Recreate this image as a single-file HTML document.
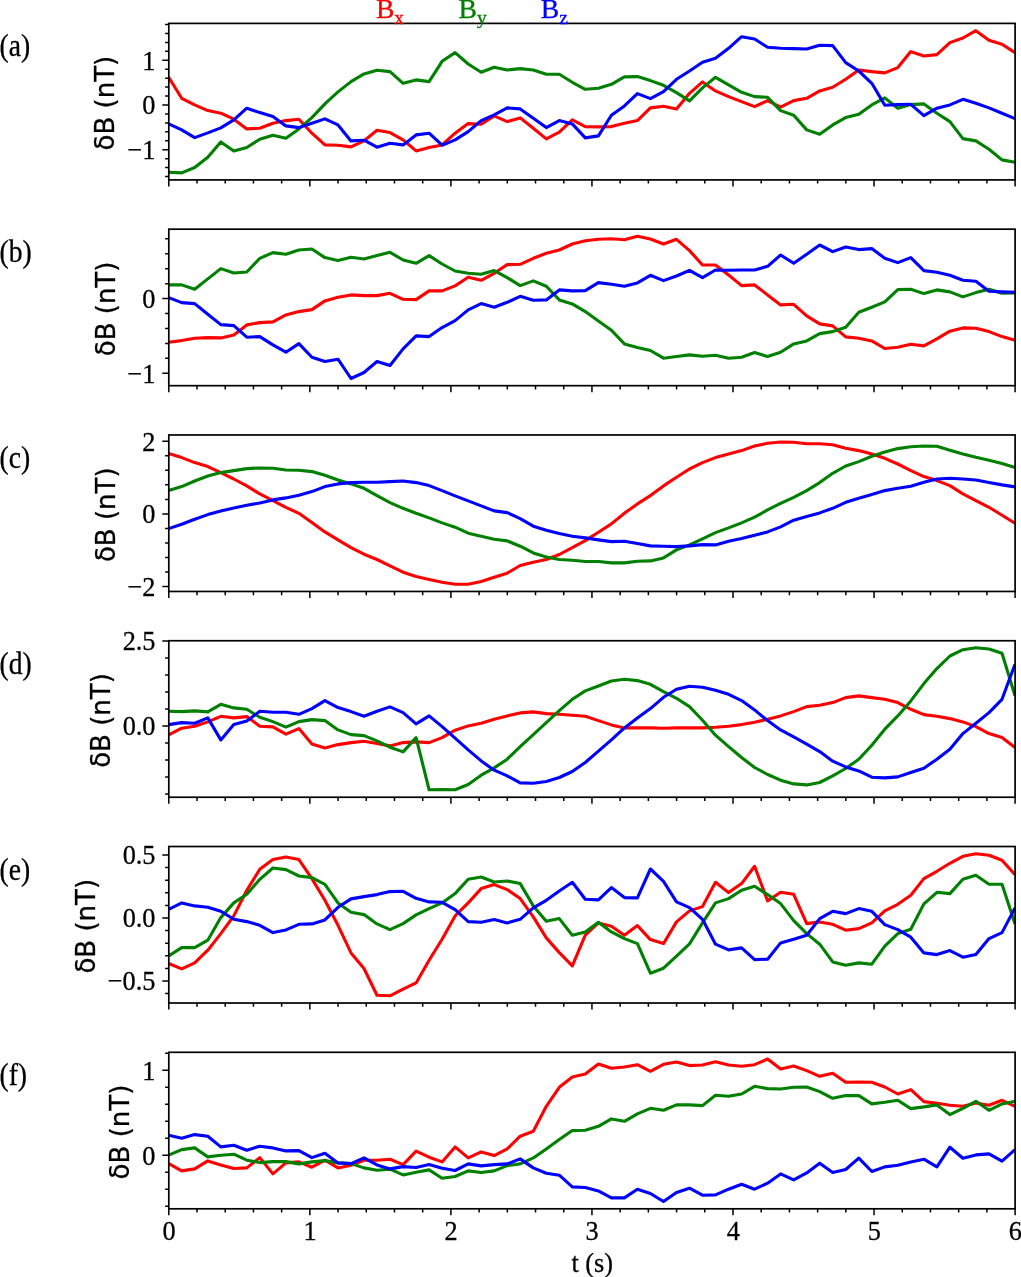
<!DOCTYPE html><html><head><meta charset="utf-8"><style>html,body{margin:0;padding:0;background:#fff;}svg{display:block;}</style></head><body>
<svg width="1021" height="1277" viewBox="0 0 1021 1277">
<rect x="0" y="0" width="1021" height="1277" fill="#fff"/>
<defs>
<clipPath id="ca"><rect x="168.8" y="23.4" width="846.30" height="156.5"/></clipPath>
<clipPath id="cb"><rect x="168.8" y="229.18" width="846.30" height="156.5"/></clipPath>
<clipPath id="cc"><rect x="168.8" y="434.96" width="846.30" height="156.5"/></clipPath>
<clipPath id="cd"><rect x="168.8" y="640.74" width="846.30" height="156.5"/></clipPath>
<clipPath id="ce"><rect x="168.8" y="846.52" width="846.30" height="156.5"/></clipPath>
<clipPath id="cf"><rect x="168.8" y="1052.3000000000002" width="846.30" height="156.5"/></clipPath>
</defs>
<g clip-path="url(#ca)" fill="none" stroke-width="3.1" stroke-linejoin="round" stroke-linecap="butt">
<polyline stroke="#ff0000" points="168.7,77.3 181.7,98.3 194.7,104.9 207.8,110.6 220.8,113.2 233.8,119.2 246.8,128.9 259.8,128.2 272.9,123.2 285.9,120.6 298.9,119.2 311.9,133.2 324.9,144.9 338.0,145.2 351.0,146.9 364.0,140.9 377.0,130.2 390.0,132.6 403.1,139.9 416.1,150.9 429.1,147.5 442.1,144.9 455.1,133.2 468.2,123.6 481.2,124.2 494.2,115.9 507.2,121.6 520.2,117.9 533.3,128.2 546.3,138.9 559.3,132.2 572.3,119.9 585.3,126.6 598.4,126.9 611.4,126.6 624.4,123.2 637.4,120.6 650.4,107.9 663.5,106.2 676.5,108.9 689.5,93.3 702.5,81.9 715.5,90.9 728.6,96.6 741.6,101.6 754.6,106.6 767.6,100.6 780.6,107.2 793.7,100.6 806.7,98.3 819.7,90.9 832.7,87.3 845.7,79.3 858.8,70.0 871.8,71.6 884.8,72.9 897.8,67.6 910.8,51.6 923.9,56.0 936.9,54.6 949.9,42.6 962.9,38.0 975.9,30.7 989.0,40.3 1002.0,44.3 1015.0,52.6"/>
<polyline stroke="#008000" points="168.7,172.2 181.7,172.9 194.7,167.5 207.8,157.2 220.8,141.9 233.8,150.9 246.8,147.5 259.8,139.2 272.9,135.2 285.9,138.2 298.9,128.9 311.9,117.6 324.9,103.9 338.0,91.9 351.0,81.6 364.0,73.9 377.0,70.3 390.0,71.6 403.1,83.3 416.1,79.9 429.1,81.6 442.1,61.3 455.1,52.6 468.2,64.0 481.2,72.3 494.2,67.3 507.2,70.0 520.2,68.6 533.3,70.0 546.3,74.3 559.3,74.3 572.3,82.3 585.3,89.3 598.4,88.3 611.4,84.3 624.4,76.9 637.4,76.6 650.4,80.6 663.5,85.3 676.5,92.6 689.5,100.9 702.5,87.9 715.5,77.3 728.6,84.9 741.6,92.3 754.6,96.6 767.6,97.3 780.6,110.6 793.7,115.2 806.7,129.9 819.7,134.2 832.7,124.9 845.7,117.6 858.8,114.2 871.8,104.9 884.8,97.9 897.8,108.2 910.8,104.6 923.9,103.9 936.9,113.2 949.9,121.6 962.9,138.6 975.9,140.9 989.0,149.2 1002.0,159.9 1015.0,162.2"/>
<polyline stroke="#0000ff" points="168.7,123.9 181.7,129.9 194.7,137.6 207.8,132.9 220.8,127.9 233.8,119.9 246.8,108.2 259.8,112.6 272.9,116.6 285.9,125.9 298.9,127.6 311.9,123.2 324.9,118.9 338.0,124.9 351.0,140.9 364.0,140.2 377.0,147.2 390.0,143.2 403.1,144.9 416.1,134.9 429.1,133.2 442.1,145.2 455.1,139.9 468.2,131.6 481.2,120.6 494.2,114.9 507.2,107.9 520.2,108.9 533.3,118.2 546.3,127.6 559.3,120.6 572.3,123.9 585.3,137.9 598.4,135.9 611.4,115.2 624.4,105.9 637.4,93.6 650.4,98.6 663.5,91.6 676.5,79.3 689.5,71.0 702.5,62.3 715.5,58.3 728.6,48.3 741.6,36.7 754.6,39.0 767.6,47.3 780.6,48.3 793.7,48.6 806.7,49.0 819.7,45.3 832.7,45.6 845.7,62.6 858.8,71.0 871.8,83.3 884.8,105.2 897.8,104.6 910.8,104.3 923.9,115.6 936.9,108.2 949.9,104.9 962.9,99.3 975.9,103.3 989.0,107.9 1002.0,113.2 1015.0,118.6"/>
</g>
<rect x="168.8" y="23.4" width="846.30" height="156.5" fill="none" stroke="#000" stroke-width="1.7"/>
<path d="M168.80,179.90v6.5 M197.01,179.90v3.7 M225.22,179.90v3.7 M253.43,179.90v3.7 M281.64,179.90v3.7 M309.85,179.90v6.5 M338.06,179.90v3.7 M366.27,179.90v3.7 M394.48,179.90v3.7 M422.69,179.90v3.7 M450.90,179.90v6.5 M479.11,179.90v3.7 M507.32,179.90v3.7 M535.53,179.90v3.7 M563.74,179.90v3.7 M591.95,179.90v6.5 M620.16,179.90v3.7 M648.37,179.90v3.7 M676.58,179.90v3.7 M704.79,179.90v3.7 M733.00,179.90v6.5 M761.21,179.90v3.7 M789.42,179.90v3.7 M817.63,179.90v3.7 M845.84,179.90v3.7 M874.05,179.90v6.5 M902.26,179.90v3.7 M930.47,179.90v3.7 M958.68,179.90v3.7 M986.89,179.90v3.7 M1015.10,179.90v6.5 M168.80,176.52h-3.7 M168.80,167.58h-3.7 M168.80,158.64h-3.7 M168.80,149.70h-6.5 M168.80,140.76h-3.7 M168.80,131.82h-3.7 M168.80,122.88h-3.7 M168.80,113.94h-3.7 M168.80,105.00h-6.5 M168.80,96.06h-3.7 M168.80,87.12h-3.7 M168.80,78.18h-3.7 M168.80,69.24h-3.7 M168.80,60.30h-6.5 M168.80,51.36h-3.7 M168.80,42.42h-3.7 M168.80,33.48h-3.7 M168.80,24.54h-3.7" stroke="#000" stroke-width="1.5" fill="none"/>
<text stroke="#000" stroke-width="0.3" transform="translate(155.5,69.70) scale(0.95,1)" text-anchor="end" font-family="'Liberation Serif', serif" font-size="27.7">1</text>
<text stroke="#000" stroke-width="0.3" transform="translate(155.5,114.40) scale(0.95,1)" text-anchor="end" font-family="'Liberation Serif', serif" font-size="27.7">0</text>
<text stroke="#000" stroke-width="0.3" transform="translate(155.5,159.10) scale(0.95,1)" text-anchor="end" font-family="'Liberation Serif', serif" font-size="27.7">−1</text>
<text stroke="#000" stroke-width="0.3" transform="translate(114.4,103.15) rotate(-90)" text-anchor="middle" font-family="'DejaVu Sans', sans-serif" font-size="26">δB (nT)</text>
<text stroke="#000" stroke-width="0.3" transform="translate(-0.5,56.40) scale(0.89,1)" font-family="'Liberation Serif', serif" font-size="31">(a)</text>
<g clip-path="url(#cb)" fill="none" stroke-width="3.1" stroke-linejoin="round" stroke-linecap="butt">
<polyline stroke="#ff0000" points="168.7,342.2 181.7,340.6 194.7,338.2 207.8,337.6 220.8,337.9 233.8,334.9 246.8,324.9 259.8,322.6 272.9,321.9 285.9,314.9 298.9,311.6 311.9,309.6 324.9,300.9 338.0,297.3 351.0,294.9 364.0,295.6 377.0,295.6 390.0,293.3 403.1,299.3 416.1,299.6 429.1,290.9 442.1,290.9 455.1,285.9 468.2,277.3 481.2,280.3 494.2,273.3 507.2,264.6 520.2,264.3 533.3,258.3 546.3,253.3 559.3,250.0 572.3,244.0 585.3,240.7 598.4,239.3 611.4,238.7 624.4,239.7 637.4,236.3 650.4,239.0 663.5,244.0 676.5,239.3 689.5,250.6 702.5,265.0 715.5,265.0 728.6,275.0 741.6,285.6 754.6,284.9 767.6,294.9 780.6,304.9 793.7,304.3 806.7,315.9 819.7,323.9 832.7,325.9 845.7,336.9 858.8,338.2 871.8,340.9 884.8,348.5 897.8,347.2 910.8,344.2 923.9,345.9 936.9,338.9 949.9,331.2 962.9,327.9 975.9,328.2 989.0,331.6 1002.0,336.6 1015.0,340.2"/>
<polyline stroke="#008000" points="168.7,284.9 181.7,284.9 194.7,289.3 207.8,278.9 220.8,268.6 233.8,273.0 246.8,272.0 259.8,258.3 272.9,252.6 285.9,254.3 298.9,250.0 311.9,249.0 324.9,257.6 338.0,260.6 351.0,257.3 364.0,259.0 377.0,255.6 390.0,252.3 403.1,260.0 416.1,263.3 429.1,255.6 442.1,264.0 455.1,271.0 468.2,273.3 481.2,274.3 494.2,270.6 507.2,277.6 520.2,285.6 533.3,280.9 546.3,286.3 559.3,299.9 572.3,303.9 585.3,311.6 598.4,320.9 611.4,330.2 624.4,343.9 637.4,347.5 650.4,350.5 663.5,358.2 676.5,356.5 689.5,354.9 702.5,356.2 715.5,355.2 728.6,358.2 741.6,357.2 754.6,352.5 767.6,356.5 780.6,352.2 793.7,343.9 806.7,340.9 819.7,333.6 832.7,331.6 845.7,327.2 858.8,312.2 871.8,307.3 884.8,301.9 897.8,289.6 910.8,289.3 923.9,293.6 936.9,289.9 949.9,291.9 962.9,296.9 975.9,292.6 989.0,289.3 1002.0,293.3 1015.0,292.9"/>
<polyline stroke="#0000ff" points="168.7,297.6 181.7,302.6 194.7,303.6 207.8,314.2 220.8,324.6 233.8,325.6 246.8,337.2 259.8,336.6 272.9,344.9 285.9,352.2 298.9,343.6 311.9,357.2 324.9,361.5 338.0,359.2 351.0,378.5 364.0,372.5 377.0,361.5 390.0,365.5 403.1,348.9 416.1,335.9 429.1,336.6 442.1,327.6 455.1,320.6 468.2,309.9 481.2,303.6 494.2,307.3 507.2,302.3 520.2,296.3 533.3,300.3 546.3,299.9 559.3,289.9 572.3,290.9 585.3,290.6 598.4,282.6 611.4,284.3 624.4,286.3 637.4,282.9 650.4,275.3 663.5,280.6 676.5,276.0 689.5,270.3 702.5,277.6 715.5,270.0 728.6,270.3 741.6,270.0 754.6,270.0 767.6,266.3 780.6,255.0 793.7,263.3 806.7,254.3 819.7,245.0 832.7,251.6 845.7,247.0 858.8,249.6 871.8,248.6 884.8,258.3 897.8,262.6 910.8,257.6 923.9,270.6 936.9,272.3 949.9,275.3 962.9,280.3 975.9,281.3 989.0,291.3 1002.0,291.9 1015.0,292.3"/>
</g>
<rect x="168.8" y="229.18" width="846.30" height="156.5" fill="none" stroke="#000" stroke-width="1.7"/>
<path d="M168.80,385.68v6.5 M197.01,385.68v3.7 M225.22,385.68v3.7 M253.43,385.68v3.7 M281.64,385.68v3.7 M309.85,385.68v6.5 M338.06,385.68v3.7 M366.27,385.68v3.7 M394.48,385.68v3.7 M422.69,385.68v3.7 M450.90,385.68v6.5 M479.11,385.68v3.7 M507.32,385.68v3.7 M535.53,385.68v3.7 M563.74,385.68v3.7 M591.95,385.68v6.5 M620.16,385.68v3.7 M648.37,385.68v3.7 M676.58,385.68v3.7 M704.79,385.68v3.7 M733.00,385.68v6.5 M761.21,385.68v3.7 M789.42,385.68v3.7 M817.63,385.68v3.7 M845.84,385.68v3.7 M874.05,385.68v6.5 M902.26,385.68v3.7 M930.47,385.68v3.7 M958.68,385.68v3.7 M986.89,385.68v3.7 M1015.10,385.68v6.5 M168.80,373.30h-6.5 M168.80,358.36h-3.7 M168.80,343.42h-3.7 M168.80,328.48h-3.7 M168.80,313.54h-3.7 M168.80,298.60h-6.5 M168.80,283.66h-3.7 M168.80,268.72h-3.7 M168.80,253.78h-3.7 M168.80,238.84h-3.7" stroke="#000" stroke-width="1.5" fill="none"/>
<text stroke="#000" stroke-width="0.3" transform="translate(155.5,308.00) scale(0.95,1)" text-anchor="end" font-family="'Liberation Serif', serif" font-size="27.7">0</text>
<text stroke="#000" stroke-width="0.3" transform="translate(155.5,382.70) scale(0.95,1)" text-anchor="end" font-family="'Liberation Serif', serif" font-size="27.7">−1</text>
<text stroke="#000" stroke-width="0.3" transform="translate(114.6,308.93) rotate(-90)" text-anchor="middle" font-family="'DejaVu Sans', sans-serif" font-size="26">δB (nT)</text>
<text stroke="#000" stroke-width="0.3" transform="translate(-0.5,262.18) scale(0.89,1)" font-family="'Liberation Serif', serif" font-size="31">(b)</text>
<g clip-path="url(#cc)" fill="none" stroke-width="3.1" stroke-linejoin="round" stroke-linecap="butt">
<polyline stroke="#ff0000" points="168.7,453.6 181.7,457.6 194.7,462.6 207.8,466.6 220.8,472.6 233.8,479.0 246.8,485.9 259.8,493.9 272.9,500.6 285.9,507.3 298.9,513.3 311.9,522.6 324.9,531.9 338.0,539.9 351.0,547.6 364.0,554.2 377.0,559.5 390.0,565.9 403.1,572.2 416.1,576.5 429.1,579.5 442.1,582.2 455.1,584.2 468.2,584.2 481.2,581.5 494.2,577.2 507.2,573.2 520.2,565.5 533.3,562.2 546.3,559.5 559.3,554.5 572.3,547.6 585.3,540.6 598.4,532.2 611.4,523.9 624.4,513.3 637.4,503.9 650.4,495.6 663.5,485.9 676.5,477.3 689.5,469.0 702.5,462.6 715.5,457.6 728.6,454.0 741.6,450.6 754.6,446.0 767.6,443.3 780.6,442.0 793.7,442.3 806.7,443.7 819.7,443.7 832.7,444.7 845.7,448.3 858.8,450.6 871.8,454.0 884.8,458.3 897.8,464.0 910.8,470.6 923.9,476.6 936.9,480.6 949.9,485.6 962.9,493.9 975.9,500.6 989.0,507.3 1002.0,515.2 1015.0,523.2"/>
<polyline stroke="#008000" points="168.7,490.6 181.7,486.6 194.7,481.0 207.8,476.0 220.8,472.6 233.8,470.6 246.8,468.6 259.8,468.0 272.9,468.3 285.9,470.0 298.9,470.3 311.9,471.6 324.9,475.3 338.0,480.0 351.0,483.9 364.0,488.3 377.0,495.6 390.0,502.6 403.1,508.3 416.1,513.3 429.1,517.9 442.1,522.9 455.1,527.2 468.2,533.2 481.2,536.2 494.2,539.2 507.2,540.9 520.2,546.2 533.3,552.9 546.3,556.9 559.3,559.5 572.3,560.2 585.3,561.5 598.4,561.5 611.4,562.9 624.4,562.9 637.4,561.2 650.4,560.9 663.5,557.9 676.5,549.9 689.5,544.9 702.5,538.9 715.5,532.6 728.6,527.9 741.6,522.9 754.6,517.2 767.6,509.9 780.6,503.3 793.7,497.3 806.7,490.6 819.7,482.6 832.7,473.3 845.7,466.0 858.8,461.6 871.8,456.3 884.8,452.0 897.8,448.6 910.8,446.7 923.9,446.0 936.9,446.3 949.9,450.3 962.9,454.0 975.9,457.3 989.0,460.3 1002.0,463.6 1015.0,467.6"/>
<polyline stroke="#0000ff" points="168.7,528.6 181.7,524.2 194.7,519.2 207.8,514.6 220.8,510.9 233.8,507.9 246.8,505.3 259.8,502.9 272.9,499.9 285.9,497.9 298.9,495.3 311.9,491.6 324.9,486.6 338.0,483.9 351.0,482.6 364.0,482.3 377.0,482.3 390.0,481.6 403.1,481.0 416.1,482.6 429.1,485.6 442.1,490.6 455.1,495.9 468.2,500.9 481.2,505.9 494.2,510.9 507.2,512.6 520.2,518.6 533.3,526.2 546.3,530.2 559.3,533.6 572.3,536.2 585.3,537.9 598.4,539.9 611.4,541.6 624.4,541.2 637.4,543.6 650.4,545.9 663.5,546.2 676.5,546.6 689.5,545.9 702.5,544.6 715.5,544.9 728.6,541.2 741.6,538.6 754.6,535.2 767.6,531.9 780.6,526.9 793.7,520.2 806.7,516.6 819.7,512.9 832.7,508.3 845.7,502.3 858.8,498.3 871.8,494.6 884.8,490.6 897.8,488.3 910.8,486.3 923.9,482.3 936.9,479.0 949.9,478.3 962.9,479.0 975.9,480.0 989.0,482.6 1002.0,484.9 1015.0,486.9"/>
</g>
<rect x="168.8" y="434.96" width="846.30" height="156.5" fill="none" stroke="#000" stroke-width="1.7"/>
<path d="M168.80,591.46v6.5 M197.01,591.46v3.7 M225.22,591.46v3.7 M253.43,591.46v3.7 M281.64,591.46v3.7 M309.85,591.46v6.5 M338.06,591.46v3.7 M366.27,591.46v3.7 M394.48,591.46v3.7 M422.69,591.46v3.7 M450.90,591.46v6.5 M479.11,591.46v3.7 M507.32,591.46v3.7 M535.53,591.46v3.7 M563.74,591.46v3.7 M591.95,591.46v6.5 M620.16,591.46v3.7 M648.37,591.46v3.7 M676.58,591.46v3.7 M704.79,591.46v3.7 M733.00,591.46v6.5 M761.21,591.46v3.7 M789.42,591.46v3.7 M817.63,591.46v3.7 M845.84,591.46v3.7 M874.05,591.46v6.5 M902.26,591.46v3.7 M930.47,591.46v3.7 M958.68,591.46v3.7 M986.89,591.46v3.7 M1015.10,591.46v6.5 M168.80,586.50h-6.5 M168.80,571.98h-3.7 M168.80,557.46h-3.7 M168.80,542.94h-3.7 M168.80,528.42h-3.7 M168.80,513.90h-6.5 M168.80,499.38h-3.7 M168.80,484.86h-3.7 M168.80,470.34h-3.7 M168.80,455.82h-3.7 M168.80,441.30h-6.5" stroke="#000" stroke-width="1.5" fill="none"/>
<text stroke="#000" stroke-width="0.3" transform="translate(155.5,450.70) scale(0.95,1)" text-anchor="end" font-family="'Liberation Serif', serif" font-size="27.7">2</text>
<text stroke="#000" stroke-width="0.3" transform="translate(155.5,523.30) scale(0.95,1)" text-anchor="end" font-family="'Liberation Serif', serif" font-size="27.7">0</text>
<text stroke="#000" stroke-width="0.3" transform="translate(155.5,595.90) scale(0.95,1)" text-anchor="end" font-family="'Liberation Serif', serif" font-size="27.7">−2</text>
<text stroke="#000" stroke-width="0.3" transform="translate(114.7,514.71) rotate(-90)" text-anchor="middle" font-family="'DejaVu Sans', sans-serif" font-size="26">δB (nT)</text>
<text stroke="#000" stroke-width="0.3" transform="translate(-0.5,467.96) scale(0.89,1)" font-family="'Liberation Serif', serif" font-size="31">(c)</text>
<g clip-path="url(#cd)" fill="none" stroke-width="3.1" stroke-linejoin="round" stroke-linecap="butt">
<polyline stroke="#ff0000" points="168.7,734.9 181.7,728.2 194.7,726.2 207.8,721.9 220.8,716.3 233.8,717.9 246.8,716.6 259.8,726.2 272.9,726.9 285.9,734.2 298.9,728.6 311.9,743.9 324.9,747.9 338.0,744.6 351.0,742.6 364.0,741.2 377.0,743.6 390.0,745.9 403.1,742.6 416.1,741.9 429.1,742.6 442.1,737.6 455.1,730.2 468.2,725.9 481.2,723.2 494.2,719.3 507.2,715.9 520.2,712.9 533.3,711.9 546.3,713.6 559.3,714.3 572.3,715.3 585.3,716.3 598.4,720.6 611.4,724.9 624.4,727.9 637.4,727.9 650.4,727.9 663.5,728.2 676.5,727.9 689.5,727.9 702.5,727.9 715.5,727.2 728.6,726.2 741.6,724.6 754.6,722.2 767.6,719.3 780.6,715.9 793.7,711.6 806.7,706.6 819.7,705.3 832.7,702.6 845.7,697.6 858.8,695.9 871.8,697.6 884.8,699.3 897.8,702.6 910.8,709.3 923.9,714.6 936.9,716.3 949.9,718.6 962.9,721.9 975.9,726.6 989.0,733.6 1002.0,737.6 1015.0,747.6"/>
<polyline stroke="#008000" points="168.7,711.3 181.7,711.6 194.7,710.9 207.8,711.9 220.8,704.3 233.8,707.9 246.8,709.3 259.8,717.3 272.9,721.6 285.9,727.2 298.9,721.6 311.9,719.6 324.9,720.6 338.0,729.9 351.0,734.6 364.0,735.6 377.0,740.9 390.0,747.2 403.1,751.9 416.1,737.6 429.1,789.8 442.1,789.5 455.1,789.8 468.2,784.5 481.2,775.2 494.2,767.9 507.2,759.2 520.2,746.6 533.3,734.6 546.3,722.6 559.3,710.6 572.3,699.3 585.3,690.9 598.4,686.0 611.4,681.0 624.4,679.3 637.4,680.6 650.4,684.3 663.5,691.6 676.5,698.3 689.5,706.6 702.5,720.3 715.5,735.2 728.6,746.6 741.6,757.5 754.6,767.5 767.6,774.5 780.6,780.2 793.7,783.9 806.7,784.9 819.7,782.5 832.7,775.9 845.7,768.5 858.8,759.2 871.8,745.2 884.8,729.2 897.8,715.9 910.8,700.9 923.9,683.6 936.9,668.6 949.9,656.0 962.9,649.7 975.9,647.7 989.0,649.0 1002.0,653.3 1015.0,695.9"/>
<polyline stroke="#0000ff" points="168.7,724.6 181.7,722.6 194.7,723.2 207.8,717.9 220.8,739.9 233.8,724.6 246.8,720.9 259.8,711.3 272.9,712.3 285.9,712.3 298.9,714.3 311.9,708.6 324.9,700.6 338.0,707.6 351.0,711.6 364.0,716.3 377.0,711.3 390.0,706.9 403.1,712.6 416.1,723.9 429.1,715.9 442.1,726.6 455.1,738.2 468.2,749.9 481.2,760.9 494.2,770.2 507.2,775.9 520.2,782.9 533.3,783.2 546.3,781.5 559.3,777.5 572.3,771.5 585.3,762.5 598.4,751.2 611.4,739.9 624.4,727.9 637.4,717.9 650.4,708.6 663.5,697.3 676.5,689.3 689.5,686.3 702.5,687.3 715.5,690.3 728.6,694.3 741.6,700.6 754.6,709.9 767.6,720.6 780.6,729.9 793.7,736.9 806.7,744.2 819.7,751.6 832.7,761.2 845.7,766.9 858.8,770.9 871.8,777.2 884.8,777.9 897.8,776.9 910.8,772.5 923.9,768.2 936.9,759.2 949.9,749.2 962.9,733.6 975.9,723.2 989.0,712.6 1002.0,699.3 1015.0,664.3"/>
</g>
<rect x="168.8" y="640.74" width="846.30" height="156.5" fill="none" stroke="#000" stroke-width="1.7"/>
<path d="M168.80,797.24v6.5 M197.01,797.24v3.7 M225.22,797.24v3.7 M253.43,797.24v3.7 M281.64,797.24v3.7 M309.85,797.24v6.5 M338.06,797.24v3.7 M366.27,797.24v3.7 M394.48,797.24v3.7 M422.69,797.24v3.7 M450.90,797.24v6.5 M479.11,797.24v3.7 M507.32,797.24v3.7 M535.53,797.24v3.7 M563.74,797.24v3.7 M591.95,797.24v6.5 M620.16,797.24v3.7 M648.37,797.24v3.7 M676.58,797.24v3.7 M704.79,797.24v3.7 M733.00,797.24v6.5 M761.21,797.24v3.7 M789.42,797.24v3.7 M817.63,797.24v3.7 M845.84,797.24v3.7 M874.05,797.24v6.5 M902.26,797.24v3.7 M930.47,797.24v3.7 M958.68,797.24v3.7 M986.89,797.24v3.7 M1015.10,797.24v6.5 M168.80,794.00h-3.7 M168.80,777.00h-3.7 M168.80,760.00h-3.7 M168.80,743.00h-3.7 M168.80,726.00h-6.5 M168.80,709.00h-3.7 M168.80,692.00h-3.7 M168.80,675.00h-3.7 M168.80,658.00h-3.7 M168.80,641.00h-6.5" stroke="#000" stroke-width="1.5" fill="none"/>
<text stroke="#000" stroke-width="0.3" transform="translate(155.5,650.40) scale(0.95,1)" text-anchor="end" font-family="'Liberation Serif', serif" font-size="27.7">2.5</text>
<text stroke="#000" stroke-width="0.3" transform="translate(155.5,735.40) scale(0.95,1)" text-anchor="end" font-family="'Liberation Serif', serif" font-size="27.7">0.0</text>
<text stroke="#000" stroke-width="0.3" transform="translate(109.6,720.49) rotate(-90)" text-anchor="middle" font-family="'DejaVu Sans', sans-serif" font-size="26">δB (nT)</text>
<text stroke="#000" stroke-width="0.3" transform="translate(-0.5,673.74) scale(0.89,1)" font-family="'Liberation Serif', serif" font-size="31">(d)</text>
<g clip-path="url(#ce)" fill="none" stroke-width="3.1" stroke-linejoin="round" stroke-linecap="butt">
<polyline stroke="#ff0000" points="168.7,963.5 181.7,968.9 194.7,962.9 207.8,950.2 220.8,933.6 233.8,915.9 246.8,890.3 259.8,869.3 272.9,859.6 285.9,857.0 298.9,859.6 311.9,878.6 324.9,900.3 338.0,925.3 351.0,952.9 364.0,968.5 377.0,995.2 390.0,995.8 403.1,989.2 416.1,982.9 429.1,960.2 442.1,939.2 455.1,915.9 468.2,902.9 481.2,888.6 494.2,884.6 507.2,889.6 520.2,898.6 533.3,916.9 546.3,937.9 559.3,952.6 572.3,965.9 585.3,935.2 598.4,922.9 611.4,926.3 624.4,935.2 637.4,925.6 650.4,939.6 663.5,943.6 676.5,921.9 689.5,910.9 702.5,906.6 715.5,882.3 728.6,892.6 741.6,883.6 754.6,866.3 767.6,900.9 780.6,892.3 793.7,894.3 806.7,923.6 819.7,921.9 832.7,924.3 845.7,930.2 858.8,928.6 871.8,922.9 884.8,910.9 897.8,904.3 910.8,895.3 923.9,878.6 936.9,871.3 949.9,863.3 962.9,856.3 975.9,853.7 989.0,855.3 1002.0,860.3 1015.0,874.6"/>
<polyline stroke="#008000" points="168.7,955.9 181.7,947.6 194.7,947.6 207.8,940.2 220.8,917.6 233.8,902.9 246.8,894.3 259.8,879.3 272.9,868.0 285.9,869.6 298.9,876.0 311.9,877.6 324.9,884.3 338.0,902.9 351.0,912.3 364.0,914.6 377.0,923.9 390.0,929.6 403.1,923.6 416.1,914.9 429.1,908.6 442.1,902.9 455.1,893.6 468.2,879.3 481.2,877.0 494.2,882.0 507.2,881.0 520.2,883.6 533.3,905.9 546.3,921.3 559.3,918.6 572.3,935.2 585.3,931.9 598.4,922.3 611.4,931.9 624.4,938.6 637.4,943.6 650.4,973.2 663.5,968.2 676.5,956.2 689.5,943.9 702.5,922.9 715.5,902.9 728.6,898.6 741.6,890.3 754.6,886.3 767.6,894.6 780.6,903.6 793.7,920.6 806.7,933.6 819.7,944.2 832.7,961.9 845.7,965.2 858.8,962.9 871.8,964.2 884.8,946.2 897.8,933.6 910.8,929.2 923.9,903.9 936.9,892.3 949.9,893.6 962.9,879.3 975.9,875.3 989.0,884.3 1002.0,884.3 1015.0,923.9"/>
<polyline stroke="#0000ff" points="168.7,909.3 181.7,902.9 194.7,905.9 207.8,907.3 220.8,911.3 233.8,919.3 246.8,921.6 259.8,925.3 272.9,932.6 285.9,929.9 298.9,924.3 311.9,923.9 324.9,919.9 338.0,907.3 351.0,898.9 364.0,896.6 377.0,894.6 390.0,891.6 403.1,891.3 416.1,898.3 429.1,901.9 442.1,902.3 455.1,909.6 468.2,921.6 481.2,922.3 494.2,919.6 507.2,922.9 520.2,919.3 533.3,907.9 546.3,900.3 559.3,891.0 572.3,882.3 585.3,899.3 598.4,899.9 611.4,887.6 624.4,897.6 637.4,897.9 650.4,869.0 663.5,881.3 676.5,901.9 689.5,907.6 702.5,919.3 715.5,944.2 728.6,949.9 741.6,947.9 754.6,959.6 767.6,959.2 780.6,942.9 793.7,939.2 806.7,935.2 819.7,918.6 832.7,911.3 845.7,913.6 858.8,908.6 871.8,911.3 884.8,924.6 897.8,929.6 910.8,937.2 923.9,952.9 936.9,954.6 949.9,950.6 962.9,957.2 975.9,954.6 989.0,938.6 1002.0,932.6 1015.0,907.9"/>
</g>
<rect x="168.8" y="846.52" width="846.30" height="156.5" fill="none" stroke="#000" stroke-width="1.7"/>
<path d="M168.80,1003.02v6.5 M197.01,1003.02v3.7 M225.22,1003.02v3.7 M253.43,1003.02v3.7 M281.64,1003.02v3.7 M309.85,1003.02v6.5 M338.06,1003.02v3.7 M366.27,1003.02v3.7 M394.48,1003.02v3.7 M422.69,1003.02v3.7 M450.90,1003.02v6.5 M479.11,1003.02v3.7 M507.32,1003.02v3.7 M535.53,1003.02v3.7 M563.74,1003.02v3.7 M591.95,1003.02v6.5 M620.16,1003.02v3.7 M648.37,1003.02v3.7 M676.58,1003.02v3.7 M704.79,1003.02v3.7 M733.00,1003.02v6.5 M761.21,1003.02v3.7 M789.42,1003.02v3.7 M817.63,1003.02v3.7 M845.84,1003.02v3.7 M874.05,1003.02v6.5 M902.26,1003.02v3.7 M930.47,1003.02v3.7 M958.68,1003.02v3.7 M986.89,1003.02v3.7 M1015.10,1003.02v6.5 M168.80,993.60h-3.7 M168.80,981.00h-6.5 M168.80,968.40h-3.7 M168.80,955.80h-3.7 M168.80,943.20h-3.7 M168.80,930.60h-3.7 M168.80,918.00h-6.5 M168.80,905.40h-3.7 M168.80,892.80h-3.7 M168.80,880.20h-3.7 M168.80,867.60h-3.7 M168.80,855.00h-6.5" stroke="#000" stroke-width="1.5" fill="none"/>
<text stroke="#000" stroke-width="0.3" transform="translate(155.5,864.40) scale(0.95,1)" text-anchor="end" font-family="'Liberation Serif', serif" font-size="27.7">0.5</text>
<text stroke="#000" stroke-width="0.3" transform="translate(155.5,927.40) scale(0.95,1)" text-anchor="end" font-family="'Liberation Serif', serif" font-size="27.7">0.0</text>
<text stroke="#000" stroke-width="0.3" transform="translate(155.5,990.40) scale(0.95,1)" text-anchor="end" font-family="'Liberation Serif', serif" font-size="27.7">−0.5</text>
<text stroke="#000" stroke-width="0.3" transform="translate(94.9,926.27) rotate(-90)" text-anchor="middle" font-family="'DejaVu Sans', sans-serif" font-size="26">δB (nT)</text>
<text stroke="#000" stroke-width="0.3" transform="translate(-0.5,879.52) scale(0.89,1)" font-family="'Liberation Serif', serif" font-size="31">(e)</text>
<g clip-path="url(#cf)" fill="none" stroke-width="3.1" stroke-linejoin="round" stroke-linecap="butt">
<polyline stroke="#ff0000" points="168.7,1163.6 181.7,1170.9 194.7,1168.9 207.8,1160.9 220.8,1164.9 233.8,1168.5 246.8,1167.9 259.8,1157.6 272.9,1173.9 285.9,1162.9 298.9,1161.9 311.9,1167.2 324.9,1160.2 338.0,1167.9 351.0,1165.2 364.0,1160.2 377.0,1160.2 390.0,1159.2 403.1,1164.6 416.1,1151.2 429.1,1157.2 442.1,1161.9 455.1,1146.9 468.2,1157.9 481.2,1151.9 494.2,1155.6 507.2,1148.9 520.2,1136.2 533.3,1131.3 546.3,1106.3 559.3,1087.3 572.3,1077.0 585.3,1074.0 598.4,1064.0 611.4,1068.3 624.4,1067.0 637.4,1064.7 650.4,1071.3 663.5,1064.3 676.5,1062.0 689.5,1065.6 702.5,1065.0 715.5,1061.7 728.6,1065.0 741.6,1066.3 754.6,1064.7 767.6,1059.0 780.6,1069.0 793.7,1066.0 806.7,1070.6 819.7,1076.3 832.7,1073.3 845.7,1082.3 858.8,1082.0 871.8,1082.3 884.8,1087.0 897.8,1094.0 910.8,1089.6 923.9,1101.6 936.9,1103.3 949.9,1105.3 962.9,1106.3 975.9,1102.9 989.0,1105.3 1002.0,1100.3 1015.0,1106.3"/>
<polyline stroke="#008000" points="168.7,1155.2 181.7,1149.6 194.7,1147.9 207.8,1156.9 220.8,1155.2 233.8,1154.2 246.8,1160.2 259.8,1162.6 272.9,1161.6 285.9,1161.6 298.9,1163.9 311.9,1161.9 324.9,1160.6 338.0,1162.9 351.0,1163.6 364.0,1167.9 377.0,1170.2 390.0,1169.2 403.1,1174.9 416.1,1172.2 429.1,1169.9 442.1,1178.2 455.1,1176.5 468.2,1170.9 481.2,1172.5 494.2,1170.9 507.2,1165.6 520.2,1163.9 533.3,1157.9 546.3,1148.9 559.3,1139.6 572.3,1130.6 585.3,1130.3 598.4,1126.3 611.4,1118.9 624.4,1121.3 637.4,1113.9 650.4,1108.3 663.5,1110.3 676.5,1104.9 689.5,1104.9 702.5,1105.6 715.5,1095.3 728.6,1096.3 741.6,1094.0 754.6,1086.3 767.6,1088.6 780.6,1089.0 793.7,1087.3 806.7,1087.0 819.7,1091.6 832.7,1098.3 845.7,1095.6 858.8,1095.6 871.8,1103.9 884.8,1102.3 897.8,1100.3 910.8,1108.6 923.9,1106.9 936.9,1104.9 949.9,1114.6 962.9,1108.3 975.9,1101.3 989.0,1110.3 1002.0,1103.9 1015.0,1101.3"/>
<polyline stroke="#0000ff" points="168.7,1135.2 181.7,1138.2 194.7,1134.6 207.8,1136.2 220.8,1146.9 233.8,1145.2 246.8,1150.2 259.8,1146.2 272.9,1147.9 285.9,1150.9 298.9,1150.6 311.9,1157.6 324.9,1153.2 338.0,1162.9 351.0,1163.6 364.0,1157.9 377.0,1164.9 390.0,1168.9 403.1,1166.6 416.1,1167.5 429.1,1164.6 442.1,1168.2 455.1,1170.5 468.2,1163.9 481.2,1165.9 494.2,1164.6 507.2,1163.9 520.2,1158.9 533.3,1167.9 546.3,1173.2 559.3,1175.2 572.3,1186.9 585.3,1187.5 598.4,1190.9 611.4,1197.9 624.4,1197.9 637.4,1189.2 650.4,1193.5 663.5,1201.5 676.5,1192.5 689.5,1188.2 702.5,1195.2 715.5,1194.9 728.6,1189.2 741.6,1184.2 754.6,1189.2 767.6,1183.2 780.6,1173.9 793.7,1179.9 806.7,1172.9 819.7,1163.2 832.7,1172.5 845.7,1169.5 858.8,1158.2 871.8,1171.5 884.8,1166.9 897.8,1165.2 910.8,1161.9 923.9,1159.2 936.9,1166.9 949.9,1147.2 962.9,1158.2 975.9,1154.9 989.0,1153.9 1002.0,1161.2 1015.0,1149.6"/>
</g>
<rect x="168.8" y="1052.3000000000002" width="846.30" height="156.5" fill="none" stroke="#000" stroke-width="1.7"/>
<path d="M168.80,1208.80v6.5 M197.01,1208.80v3.7 M225.22,1208.80v3.7 M253.43,1208.80v3.7 M281.64,1208.80v3.7 M309.85,1208.80v6.5 M338.06,1208.80v3.7 M366.27,1208.80v3.7 M394.48,1208.80v3.7 M422.69,1208.80v3.7 M450.90,1208.80v6.5 M479.11,1208.80v3.7 M507.32,1208.80v3.7 M535.53,1208.80v3.7 M563.74,1208.80v3.7 M591.95,1208.80v6.5 M620.16,1208.80v3.7 M648.37,1208.80v3.7 M676.58,1208.80v3.7 M704.79,1208.80v3.7 M733.00,1208.80v6.5 M761.21,1208.80v3.7 M789.42,1208.80v3.7 M817.63,1208.80v3.7 M845.84,1208.80v3.7 M874.05,1208.80v6.5 M902.26,1208.80v3.7 M930.47,1208.80v3.7 M958.68,1208.80v3.7 M986.89,1208.80v3.7 M1015.10,1208.80v6.5 M168.80,1206.20h-3.7 M168.80,1189.20h-3.7 M168.80,1172.20h-3.7 M168.80,1155.20h-6.5 M168.80,1138.20h-3.7 M168.80,1121.20h-3.7 M168.80,1104.20h-3.7 M168.80,1087.20h-3.7 M168.80,1070.20h-6.5 M168.80,1053.20h-3.7" stroke="#000" stroke-width="1.5" fill="none"/>
<text stroke="#000" stroke-width="0.3" transform="translate(155.5,1079.60) scale(0.95,1)" text-anchor="end" font-family="'Liberation Serif', serif" font-size="27.7">1</text>
<text stroke="#000" stroke-width="0.3" transform="translate(155.5,1164.60) scale(0.95,1)" text-anchor="end" font-family="'Liberation Serif', serif" font-size="27.7">0</text>
<text stroke="#000" stroke-width="0.3" transform="translate(129.0,1132.05) rotate(-90)" text-anchor="middle" font-family="'DejaVu Sans', sans-serif" font-size="26">δB (nT)</text>
<text stroke="#000" stroke-width="0.3" transform="translate(-0.5,1085.30) scale(0.89,1)" font-family="'Liberation Serif', serif" font-size="31">(f)</text>
<text stroke="#000" stroke-width="0.3" transform="translate(169.00,1240.4) scale(0.95,1)" text-anchor="middle" font-family="'Liberation Serif', serif" font-size="27.7">0</text>
<text stroke="#000" stroke-width="0.3" transform="translate(310.05,1240.4) scale(0.95,1)" text-anchor="middle" font-family="'Liberation Serif', serif" font-size="27.7">1</text>
<text stroke="#000" stroke-width="0.3" transform="translate(451.10,1240.4) scale(0.95,1)" text-anchor="middle" font-family="'Liberation Serif', serif" font-size="27.7">2</text>
<text stroke="#000" stroke-width="0.3" transform="translate(592.15,1240.4) scale(0.95,1)" text-anchor="middle" font-family="'Liberation Serif', serif" font-size="27.7">3</text>
<text stroke="#000" stroke-width="0.3" transform="translate(733.20,1240.4) scale(0.95,1)" text-anchor="middle" font-family="'Liberation Serif', serif" font-size="27.7">4</text>
<text stroke="#000" stroke-width="0.3" transform="translate(874.25,1240.4) scale(0.95,1)" text-anchor="middle" font-family="'Liberation Serif', serif" font-size="27.7">5</text>
<text stroke="#000" stroke-width="0.3" transform="translate(1015.30,1240.4) scale(0.95,1)" text-anchor="middle" font-family="'Liberation Serif', serif" font-size="27.7">6</text>
<text stroke="#000" stroke-width="0.3" transform="translate(592.2,1271.6) scale(0.95,1)" text-anchor="middle" font-family="'Liberation Serif', serif" font-size="27.7">t (s)</text>
<text x="375.9" y="17.8" font-family="'Liberation Serif', serif" font-size="27.7" fill="#ff0000" stroke="#ff0000" stroke-width="0.3">B<tspan font-size="19.4" dy="6.3">x</tspan></text>
<text x="458.6" y="17.8" font-family="'Liberation Serif', serif" font-size="27.7" fill="#008000" stroke="#008000" stroke-width="0.3">B<tspan font-size="19.4" dy="6.3">y</tspan></text>
<text x="540.7" y="17.8" font-family="'Liberation Serif', serif" font-size="27.7" fill="#0000ff" stroke="#0000ff" stroke-width="0.3">B<tspan font-size="19.4" dy="6.3">z</tspan></text>
</svg></body></html>
